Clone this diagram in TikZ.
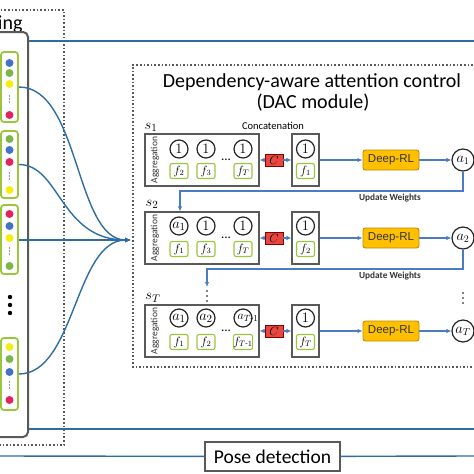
\documentclass[tikz,border=0pt]{standalone}
\usepackage{amsmath}
\usepackage{fontspec}
\setmainfont{Carlito}
\newfontfamily\arialf{Liberation Sans}
\usetikzlibrary{arrows.meta}
\definecolor{lblue}{HTML}{2E6DA4}
\definecolor{ablue}{HTML}{4A7CC4}
\definecolor{gbord}{HTML}{9BC53D}
\definecolor{dgray}{HTML}{595959}
\definecolor{cblue}{HTML}{4472C4}
\definecolor{cgreen}{HTML}{7AB648}
\definecolor{cyellow}{HTML}{F5EE10}
\definecolor{cred}{HTML}{E0245E}
\definecolor{cfill}{HTML}{E8463F}
\definecolor{dfill}{HTML}{FFC000}
\definecolor{dbord}{HTML}{C08A00}
\tikzset{
  fs/.style={font=\fontsize{#1}{#1}\selectfont},
  dotbox/.style={draw=dgray, dotted, line width=1.6pt},
  colbox/.style={draw=gbord, line width=1.8pt, rounded corners=3pt, minimum width=17pt, inner sep=0pt, fill=white},
  dotc/.style={circle, inner sep=0pt, minimum size=8pt, fill=#1},
  bline/.style={draw=lblue, line width=1.4pt},
  curv/.style={draw=lblue, line width=1.4pt, -{Latex[length=6pt,width=5pt]}},
  arr/.style={draw=ablue, line width=1.1pt, -{Latex[length=5pt,width=4.5pt]}},
  aggbox/.style={draw=dgray, line width=1.1pt, minimum width=114pt, minimum height=52pt, inner sep=0pt},
  rbox/.style={draw=dgray, line width=1.1pt, minimum width=27pt, minimum height=52pt, inner sep=0pt},
  circ/.style={draw=black!85, circle, line width=1.2pt, minimum size=18pt, inner sep=0pt, font=\fontsize{15}{15}\selectfont},
  acirc/.style={draw=black!85, circle, line width=1.2pt, minimum size=22pt, inner sep=0pt, fill=white, font=\fontsize{14}{14}\selectfont},
  fbox/.style={draw=gbord, line width=1.1pt, rounded corners=2pt, minimum width=18pt, minimum height=15pt, inner sep=0pt, font=\fontsize{11.5}{11.5}\selectfont},
  cbox/.style={draw=red!50!black, fill=cfill, minimum width=18pt, minimum height=12pt, inner sep=0pt, font=\fontsize{11.5}{11.5}\selectfont},
  deep/.style={draw=dbord, fill=dfill, line width=0.9pt, rounded corners=2.5pt, minimum width=56pt, minimum height=20pt, inner sep=0pt, font=\arialf\fontsize{11.5}{11.5}\selectfont, text=black!80},
  aggtxt/.style={rotate=90, font=\fontsize{9.5}{9.5}\selectfont, text=black!80},
  slab/.style={font=\fontsize{15}{15}\selectfont},
  uwt/.style={font=\bfseries\fontsize{9.3}{9.3}\selectfont, text=black!80},
}
\begin{document}
\begin{tikzpicture}[x=1pt,y=-1pt]
\useasboundingbox (0,0) rectangle (474,474);
% left outer dotted box
\draw[dotbox] (-10,10) -- (64,10) -- (64,445) -- (-10,445);
\node[anchor=base east, fs=20] (ing) at (26,29) {ing};
% gray box
\node[draw=dgray, line width=2pt, rounded corners=5pt, minimum width=48pt, minimum height=405pt, inner sep=0pt] (gray) at (4,234.5) {};
% DAC dotted box
\draw[dotbox] (480,65) -- (133,65) -- (133,367) -- (480,367);
\node[fs=20] (title1) at (312,82) {Dependency-aware attention control};
\node[fs=20] (title2) at (313,103) {(DAC module)};
% long lines
\coordinate (topR) at (474,41);
\coordinate (botR) at (474,429);
\draw[bline] (gray.east |- topR) -- (topR);
\draw[bline] (gray.east |- botR) -- (botR);
\coordinate (pl) at (0,456);
\coordinate (pr) at (474,456);
\node[draw=dgray, line width=1.5pt, fill=white, minimum width=135pt, minimum height=29pt, inner sep=0pt, fs=19.5] (pose) at (272.5,456.5) {Pose detection};
\draw[bline] (pl) -- (pose) -- (pr);
% feature columns
\node[colbox, minimum height=70pt] (g1) at (9.5,87) {};
\node[colbox, minimum height=67pt] (g2) at (9.5,164.5) {};
\node[colbox, minimum height=69pt] (g3) at (9.5,239.5) {};
\node[colbox, minimum height=72pt] (g4) at (9.5,374) {};
\foreach \y/\c in {63/cblue,73/cgreen,84/cyellow,115/cred,
                   139/cgreen,150/cblue,162/cred,190/cyellow,
                   214/cred,226/cblue,238/cyellow,266/cgreen,
                   347/cyellow,359/cgreen,372/cblue,400/cred}
  \node[dotc=\c] at (9.5,\y) {};
\foreach \y in {99,176,251,385}
  \foreach \d in {-3,0,3} \fill[black!80] (9.5,\y+\d) circle (0.6pt);
\foreach \y in {297,305,313} \fill[black] (10,\y) circle (2.2pt);
% converging curves
\coordinate (conv) at (131,240);
\draw[curv] (g1.east) .. controls (80,87) and (75,240) .. (conv);
\draw[curv] (g2.east) .. controls (60,164.5) and (60,240) .. (conv);
\draw[curv] (g3.east |- conv) -- (conv);
\draw[curv] (g4.east) .. controls (75,374) and (75,240) .. (conv);
% ---- row 1
\node[slab] (s1) at (151,127) {$s_1$};
\node[fs=10.5] (concat) at (273,126) {Concatenation};
\node[aggbox] (agg1) at (202,160) {};
\node[aggtxt] (at1) at (155,160) {Aggregation};
\node[circ] (c11) at (179,149) {$1$};
\node[circ] (c12) at (206,149) {$1$};
\node[circ] (c13) at (243,149) {$1$};
\node[fbox] (f11) at (179,171) {$f_2$};
\node[fbox] (f12) at (206,171) {$f_3$};
\node[fbox] (f13) at (243,171) {$f_T$};
\node[fs=13] (dd1) at (226,160) {...};
\node[cbox] (C1) at (274,160) {$C$};
\node[rbox] (r1) at (305.5,160) {};
\node[circ] (rc1) at (305.5,149) {$1$};
\node[fbox] (rf1) at (305.5,171) {$f_1$};
\node[deep] (d1) at (391,160) {Deep-RL};
\node[acirc] (a1) at (463,160) {$a_1$};
\draw[arr] (C1) -- (agg1);
\draw[arr] (C1) -- (r1);
\draw[arr] (r1) -- (d1);
\draw[arr] (d1) -- (a1);
% ---- row 2
\node[slab] (s2) at (152,204) {$s_2$};
\node[aggbox] (agg2) at (202,238) {};
\node[aggtxt] (at2) at (155,238) {Aggregation};
\node[circ] (c21) at (179,226) {$a_1$};
\node[circ] (c22) at (206,226) {$1$};
\node[circ] (c23) at (243,226) {$1$};
\node[fbox] (f21) at (179,249) {$f_1$};
\node[fbox] (f22) at (206,249) {$f_3$};
\node[fbox] (f23) at (243,249) {$f_T$};
\node[fs=13] (dd2) at (226,238) {...};
\node[cbox] (C2) at (274,238) {$C$};
\node[rbox] (r2) at (305.5,238) {};
\node[circ] (rc2) at (305.5,226) {$1$};
\node[fbox] (rf2) at (305.5,249) {$f_2$};
\node[deep] (d2) at (391,238) {Deep-RL};
\node[acirc] (a2) at (463,238) {$a_2$};
\draw[arr] (C2) -- (agg2);
\draw[arr] (C2) -- (r2);
\draw[arr] (r2) -- (d2);
\draw[arr] (d2) -- (a2);
% update weights 1
\coordinate (u1) at (180,191);
\draw[arr] (a1) |- (u1) -- (u1 |- agg2.north);
\node[uwt] (uw1) at (390,198) {Update Weights};
% ---- row 3
\node[slab] (s3) at (153,298) {$s_T$};
\node[aggbox] (agg3) at (202,331) {};
\node[aggtxt] (at3) at (155,331) {Aggregation};
\node[circ] (c31) at (179,318) {$a_1$};
\node[circ] (c32) at (206,318) {$a_2$};
\node[circ] (c33) at (243,318) {};
\node[font=\fontsize{13}{13}\selectfont] (c33t) at (248,318) {$a_{T\text{-}1}$};
\node[fbox] (f31) at (179,342) {$f_1$};
\node[fbox] (f32) at (206,342) {$f_2$};
\node[fbox] (f33) at (243,342) {$f_{T\text{-}1}$};
\node[fs=13] (dd3) at (226,331) {...};
\node[cbox] (C3) at (274,331) {$C$};
\node[rbox] (r3) at (305.5,331) {};
\node[circ] (rc3) at (305.5,318) {$1$};
\node[fbox] (rf3) at (305.5,342) {$f_T$};
\node[deep] (d3) at (391,331) {Deep-RL};
\node[acirc] (a3) at (463,331) {$a_T$};
\draw[arr] (C3) -- (agg3);
\draw[arr] (C3) -- (r3);
\draw[arr] (r3) -- (d3);
\draw[arr] (d3) -- (a3);
% update weights 2
\coordinate (u2) at (207,269);
\coordinate (v2) at (207,287);
\draw[arr] (a2) |- (u2) -- (v2);
\node[uwt] (uw2) at (390,276) {Update Weights};
\foreach \y in {291,296,301} \fill[black] (207,\y) circle (0.9pt);
\foreach \y in {293,298,303} \fill[black] (463,\y) circle (0.9pt);
\end{tikzpicture}
\end{document}
